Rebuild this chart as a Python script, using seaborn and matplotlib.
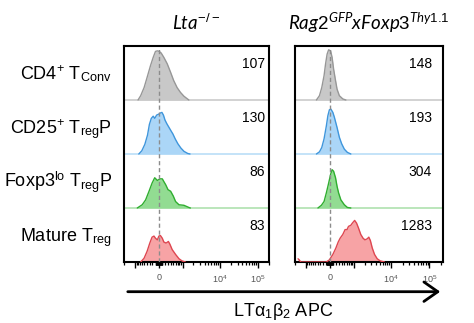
import numpy as np
import pandas as pd
import matplotlib
matplotlib.use("Agg")
import matplotlib.pyplot as plt
import matplotlib.transforms as mtransforms
from matplotlib.patches import FancyArrowPatch
import seaborn as sns

# ---------------------------------------------------------------------------
# Histogram outlines: x in logicle display units (asinh(v / 500) / ln 10),
# y as fraction of the row height.
# ---------------------------------------------------------------------------
populations = ["CD4$^{+}$ T$_{\\mathrm{Conv}}$",
               "CD25$^{+}$ T$_{\\mathrm{reg}}$P",
               "Foxp3$^{\\mathrm{lo}}$ T$_{\\mathrm{reg}}$P",
               "Mature T$_{\\mathrm{reg}}$"]

lta_mfi = [107, 130, 86, 83]
rag_mfi = [148, 193, 304, 1283]

# Lta-/- panel
lta_tconv_x = [-0.55, -0.48, -0.39, -0.31, -0.22, -0.15, -0.09, -0.04, 0.01, 0.06,
               0.13, 0.22, 0.31, 0.39, 0.48, 0.57, 0.66, 0.79]
lta_tconv_y = [0.0, 0.08, 0.23, 0.42, 0.64, 0.79, 0.90, 0.91, 0.90, 0.87,
               0.79, 0.67, 0.51, 0.36, 0.23, 0.14, 0.07, 0.0]

lta_cd25_x = [-0.53, -0.45, -0.37, -0.30, -0.25, -0.20, -0.15, -0.11, -0.06, 0.00,
              0.04, 0.08, 0.12, 0.16, 0.21, 0.26, 0.31, 0.37, 0.43, 0.50,
              0.58, 0.66, 0.76, 0.82]
lta_cd25_y = [0.0, 0.06, 0.18, 0.35, 0.55, 0.66, 0.70, 0.66, 0.72, 0.74,
              0.76, 0.77, 0.72, 0.63, 0.56, 0.50, 0.44, 0.37, 0.28, 0.19,
              0.11, 0.05, 0.01, 0.0]

lta_foxp3lo_x = [-0.57, -0.44, -0.35, -0.26, -0.18, -0.11, -0.04, 0.03, 0.09, 0.13,
                 0.18, 0.24, 0.31, 0.38, 0.44, 0.53, 0.66, 0.79, 0.83]
lta_foxp3lo_y = [0.0, 0.06, 0.15, 0.31, 0.46, 0.56, 0.51, 0.54, 0.54, 0.49,
                 0.43, 0.34, 0.31, 0.22, 0.12, 0.06, 0.05, 0.01, 0.0]

lta_mature_x = [-0.48, -0.39, -0.31, -0.24, -0.18, -0.13, -0.09, -0.04, 0.00, 0.04,
                0.09, 0.13, 0.19, 0.25, 0.29, 0.35, 0.44, 0.53, 0.61, 0.70]
lta_mature_y = [0.0, 0.07, 0.20, 0.35, 0.46, 0.48, 0.44, 0.41, 0.48, 0.49,
                0.44, 0.37, 0.35, 0.38, 0.33, 0.23, 0.14, 0.06, 0.02, 0.0]

# Rag2GFP x Foxp3Thy1.1 panel
rag_tconv_x = [-0.35, -0.27, -0.21, -0.15, -0.11, -0.07, -0.03, 0.02, 0.06, 0.10,
               0.15, 0.19, 0.25, 0.34, 0.42]
rag_tconv_y = [0.0, 0.08, 0.23, 0.45, 0.67, 0.85, 0.93, 0.91, 0.79, 0.57,
               0.36, 0.20, 0.08, 0.02, 0.0]

rag_cd25_x = [-0.35, -0.27, -0.21, -0.15, -0.09, -0.05, -0.01, 0.03, 0.08, 0.12,
              0.19, 0.25, 0.31, 0.38, 0.46, 0.55]
rag_cd25_y = [0.0, 0.04, 0.12, 0.28, 0.52, 0.71, 0.82, 0.83, 0.77, 0.68,
              0.49, 0.31, 0.19, 0.09, 0.03, 0.0]

rag_foxp3lo_x = [-0.31, -0.22, -0.15, -0.09, -0.03, 0.02, 0.06, 0.10, 0.15, 0.19,
                 0.23, 0.29, 0.38, 0.46, 0.55]
rag_foxp3lo_y = [0.0, 0.05, 0.12, 0.28, 0.46, 0.62, 0.71, 0.68, 0.56, 0.40,
                 0.28, 0.15, 0.06, 0.01, 0.0]

rag_mature_x = [-0.83, -0.80, -0.76, -0.09, -0.01, 0.08, 0.16, 0.22, 0.27, 0.34,
                0.40, 0.45, 0.49, 0.55, 0.59, 0.65, 0.70, 0.75, 0.81, 0.87,
                0.92, 0.98, 1.02, 1.06, 1.11, 1.17, 1.24, 1.32, 1.43]
rag_mature_y = [0.06, 0.04, 0.0, 0.0, 0.04, 0.14, 0.26, 0.37, 0.44, 0.51,
                0.60, 0.60, 0.66, 0.68, 0.72, 0.77, 0.72, 0.63, 0.51, 0.44,
                0.41, 0.43, 0.46, 0.40, 0.26, 0.14, 0.06, 0.02, 0.0]

lta_curves = [(lta_tconv_x, lta_tconv_y), (lta_cd25_x, lta_cd25_y),
              (lta_foxp3lo_x, lta_foxp3lo_y), (lta_mature_x, lta_mature_y)]
rag_curves = [(rag_tconv_x, rag_tconv_y), (rag_cd25_x, rag_cd25_y),
              (rag_foxp3lo_x, rag_foxp3lo_y), (rag_mature_x, rag_mature_y)]

fills = ["#c8c8c8", "#abd6f7", "#92dc92", "#f7a3a5"]
edges = ["#979797", "#3f96dc", "#2fae2f", "#de4650"]
baselines = ["#cfcfcf", "#bfe0f8", "#b5e4b5", "#f4b8b8"]

# axis ticks (fluorescence values)
labelled_ticks = [0, 1e4, 1e5]
labelled_text = ["0", "$10^{4}$", "$10^{5}$"]
long_ticks = [-1000, 1000]
short_ticks = ([-k * 100 for k in range(1, 10)] + [-k * 10 for k in range(1, 10)]
               + [k * 10 for k in range(1, 10)] + [k * 100 for k in range(1, 10)]
               + [k * 1000 for k in range(2, 10)] + [k * 10000 for k in range(2, 10)]
               + [-2000, 2e5])


def to_display(v):
    return np.arcsinh(np.asarray(v, dtype=float) / 500.0) / np.log(10)


sns.set_theme(style="white")
plt.rcParams["font.family"] = ["Liberation Sans", "DejaVu Sans"]
plt.rcParams["text.color"] = "black"
plt.rcParams["mathtext.fontset"] = "custom"
plt.rcParams["mathtext.rm"] = "Liberation Sans"
plt.rcParams["mathtext.it"] = "Lato:italic"
plt.rcParams["mathtext.bf"] = "Liberation Sans:bold"

fig = plt.figure(figsize=(4.74, 3.23), dpi=100)
W, H = 474.0, 323.0
ax_l = fig.add_axes([124 / W, 1 - 262 / H, 145 / W, 216 / H])
ax_r = fig.add_axes([295 / W, 1 - 262 / H, 148 / W, 216 / H])

panels = [(ax_l, lta_curves, lta_mfi, (-0.92, 2.89), 0.972),
          (ax_r, rag_curves, rag_mfi, (-0.83, 2.96), 0.925)]

for ax, curves, mfi, xlim, num_x in panels:
    trans = mtransforms.blended_transform_factory(ax.transAxes, ax.transData)
    for i, (xs, ys) in enumerate(curves):
        base = 3 - i
        df = pd.DataFrame({"x": xs, "y": np.asarray(ys) + base})
        ax.axhline(base, color=baselines[i], lw=1.3, zorder=1)
        ax.fill_between(df["x"], base, df["y"], color=fills[i], lw=0, zorder=2)
        sns.lineplot(data=df, x="x", y="y", ax=ax, color=edges[i], lw=1.0,
                     sort=False, estimator=None, zorder=3)
        ax.text(num_x, base + 0.6, str(mfi[i]), transform=trans,
                ha="right", va="baseline", fontsize=10, color="black")
    ax.axvline(0, ymin=0, ymax=0.985, color="#8c8c8c", lw=1.0,
               ls=(0, (3, 2)), zorder=4)
    ax.set_xlim(*xlim)
    ax.set_ylim(0, 4)
    ax.set_yticks([])
    ax.set_xlabel("")
    ax.set_ylabel("")
    ax.set_xticks(list(to_display(labelled_ticks)) + list(to_display(long_ticks)),
                  labels=labelled_text + ["", ""])
    ax.set_xticks(to_display(short_ticks), minor=True)
    ax.tick_params(axis="x", which="major", direction="out", length=4, width=1.0,
                   color="black", labelsize=6.5, labelcolor="#555555", pad=4,
                   bottom=True)
    ax.tick_params(axis="x", which="minor", direction="out", length=2.5, width=0.9,
                   color="black", bottom=True)
    for sp in ax.spines.values():
        sp.set_visible(True)
        sp.set_color("black")
        sp.set_linewidth(1.5)
    ax.set_facecolor("white")

# population labels on the left
trans_l = mtransforms.blended_transform_factory(ax_l.transAxes, ax_l.transData)
for i, name in enumerate(populations):
    ax_l.text(-0.083, 3 - i + 0.39, name, transform=trans_l, ha="right",
              va="baseline", fontsize=13, color="black")

# strain titles
fig.text(196 / W, 1 - 30 / H, "$\\mathit{Lta}^{\\mathit{-/-}}$",
         ha="center", va="baseline", fontsize=13.5)
fig.text(369 / W, 1 - 30 / H,
         "$\\mathit{Rag2}^{\\mathit{GFP}}\\mathit{xFoxp3}^{\\mathit{Thy1.1}}$",
         ha="center", va="baseline", fontsize=13.5)

# shared x-axis arrow and label
arrow = FancyArrowPatch((125 / W, 1 - 291.7 / H), (443 / W, 1 - 291.7 / H),
                        transform=fig.transFigure, arrowstyle="->,head_length=5,head_width=3.5",
                        lw=2.0, color="black", mutation_scale=2)
fig.add_artist(arrow)
fig.text(283 / W, 1 - 316 / H, "LT$\\mathrm{\\alpha}_{1}\\mathrm{\\beta}_{2}$ APC",
         ha="center", va="baseline", fontsize=13, color="black")

fig.savefig("out.png", dpi=100, facecolor="white")
